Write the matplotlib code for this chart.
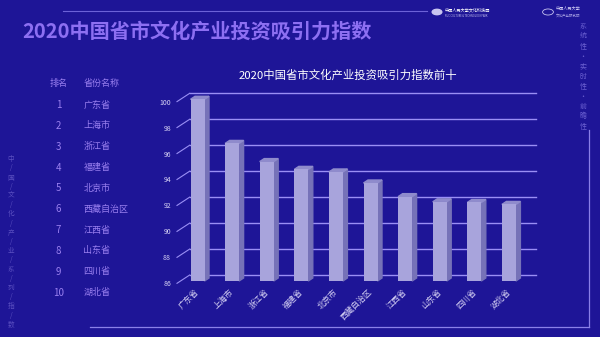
import numpy as np
import matplotlib.pyplot as plt
from matplotlib.patches import Polygon

plt.rcParams['font.family'] = ['Noto Sans CJK SC', 'DejaVu Sans']

# data
provinces = ["广东省", "上海市", "浙江省", "福建省", "北京市",
             "西藏自治区", "江西省", "山东省", "四川省", "湖北省"]
scores = [100.0, 96.6, 95.2, 94.6, 94.4, 93.55, 92.5, 92.1, 92.05, 91.9]
ranks = [str(i) for i in range(1, 11)]
y_ticks = [86, 88, 90, 92, 94, 96, 98, 100]

BG = '#1e1597'
GRID = '#9a8ff5'
FRONT = '#a8a4dc'
SIDE = '#7672b8'
TOP = '#8f8bcc'
TXT = '#9a80f0'

W, H = 600, 337
fig = plt.figure(figsize=(W / 100, H / 100), dpi=100, facecolor=BG)

# front plane of the pseudo-3d chart
x0, x1, yb, yt = 177, 523, 283.3, 101.6
ax = fig.add_axes([x0 / W, (H - yb) / H, (x1 - x0) / W, (yb - yt) / H])
ax.set_xlim(-0.5, 9.5)
ax.set_ylim(86, 100)
ax.patch.set_visible(False)
for s in ax.spines.values():
    s.set_visible(False)

ppx = (x1 - x0) / 10.0
ppy = (yb - yt) / 14.0


def off(dx, dy):
    return dx / ppx, dy / ppy


bx, by = off(12.7, 8.3)   # back wall
fx, fy = off(3.2, 2.3)    # bar front face
sx, sy = off(4.5, 3.0)    # bar depth
bw = 14 / ppx

for v in y_ticks:
    ax.plot([-0.5 + bx, 9.5 + bx], [v + by, v + by], color=GRID, lw=1.0, clip_on=False, zorder=1)
    ax.plot([-0.5, -0.5 + bx], [v, v + by], color=GRID, lw=0.8, clip_on=False, zorder=1)

x = np.arange(len(provinces))
vals = np.array(scores)
ax.bar(x + fx, vals - 86, bottom=86 + fy, width=bw, color=FRONT, zorder=3, clip_on=False)
for xi, v in zip(x, vals):
    l = xi + fx - bw / 2
    r = xi + fx + bw / 2
    top = v + fy
    ax.add_patch(Polygon([(r, 86 + fy), (r + sx, 86 + fy + sy), (r + sx, top + sy), (r, top)],
                         closed=True, color=SIDE, zorder=2, clip_on=False))
    ax.add_patch(Polygon([(l, top), (r, top), (r + sx, top + sy), (l + sx, top + sy)],
                         closed=True, color=TOP, zorder=2, clip_on=False))

ax.set_yticks(y_ticks)
ax.set_yticklabels([str(v) for v in y_ticks])
ax.tick_params(axis='y', length=0, pad=4.3, labelsize=5, labelcolor='#d8d4f5')
ax.set_xticks(x + fx)
ax.set_xticklabels(provinces, rotation=45, ha='right', va='center', rotation_mode='anchor')
ax.tick_params(axis='x', length=0, pad=5, labelsize=5.8, labelcolor='#d8d4f5')

fig.text(347.8 / W, 1 - 75 / H, "2020中国省市文化产业投资吸引力指数前十",
         ha='center', va='center', fontsize=8.2, color='white')

# page title
fig.text(22 / W, 1 - 31 / H, "2020中国省市文化产业投资吸引力指数",
         ha='left', va='center', fontsize=14.5, fontweight='bold', color='#8d6ff2')

# ranking table
fig.text(59 / W, 1 - 83.3 / H, "排名", ha='center', va='center', fontsize=6.5, color=TXT)
fig.text(84 / W, 1 - 83.3 / H, "省份名称", ha='left', va='center', fontsize=6.5, color=TXT)
for i, (rk, name) in enumerate(zip(ranks, provinces)):
    yy = 105 + i * 20.85
    fig.text(58.5 / W, 1 - yy / H, rk, ha='center', va='center', fontsize=7,
             style='italic', color=TXT)
    fig.text(83.5 / W, 1 - yy / H, name, ha='left', va='center', fontsize=6.5, color=TXT)

# side decorations
fig.text(11 / W, 1 - 242 / H, "\n".join("中/国/文/化/产/业/系/列/指/数"),
         ha='center', va='center', fontsize=4.8, color='#5a4fc0', linespacing=1.2)
fig.text(583 / W, 1 - 77 / H, "\n".join("系统性·实时性·前瞻性"),
         ha='center', va='center', fontsize=5, color='#6a5fd0', linespacing=1.32)

# frame lines
fig.add_artist(plt.Line2D([63 / W, 427 / W], [1 - 11 / H, 1 - 11 / H], color='#6c62d8', lw=0.8))
fig.add_artist(plt.Line2D([90 / W, 589 / W], [1 - 327 / H, 1 - 327 / H], color='#8a80e8', lw=0.9))
fig.add_artist(plt.Line2D([589 / W, 589 / W], [1 - 327 / H, 1 - 130 / H], color='#8a80e8', lw=0.9))

# logos (approximate)
fig.add_artist(plt.Circle((437 / W, 1 - 12 / H), 0.008, transform=fig.transFigure, color='#c8c4f0'))
fig.text(445 / W, 1 - 10 / H, "中国人民大学文化科技园", ha='left', va='center', fontsize=3, color='white')
fig.text(445 / W, 1 - 16 / H, "RUC CULTURE & TECHNOLOGY PARK", ha='left', va='center', fontsize=1.8, color='#c8c4f0')
fig.add_artist(plt.Circle((548 / W, 1 - 12 / H), 0.009, transform=fig.transFigure, fill=False,
                          color='#c8c4f0', lw=0.6))
fig.text(556 / W, 1 - 9 / H, "中国人民大学", ha='left', va='center', fontsize=3, color='#d0ccf5')
fig.text(556 / W, 1 - 15 / H, "文化产业研究院", ha='left', va='center', fontsize=2.5, color='#b0aae8')

fig.savefig('out.png', dpi=100, facecolor=BG)
